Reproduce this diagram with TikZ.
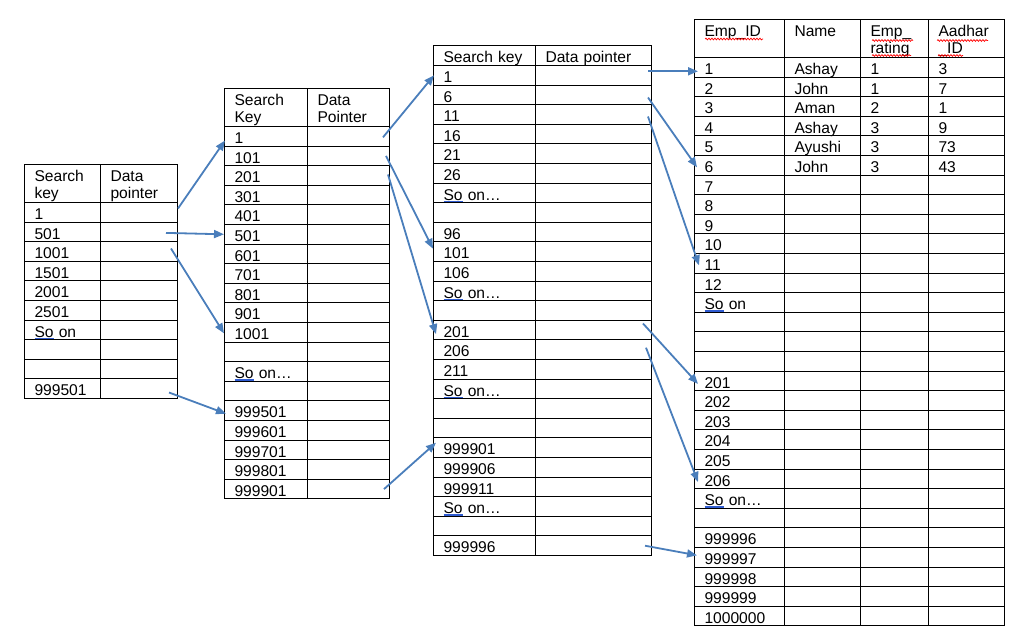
\documentclass[tikz,border=0pt]{standalone}
\usepackage{fontspec}
\setmainfont{Liberation Sans}
\usetikzlibrary{arrows.meta,decorations.pathmorphing}
\definecolor{arrowblue}{HTML}{4A7EBB}
\definecolor{spellblue}{HTML}{2F5BD0}
\newcommand{\blueso}{\rlap{\textcolor{spellblue}{\rule[-2pt]{19pt}{1.3pt}}}So}
\tikzset{
  cell/.style={draw, line width=1pt, anchor=north west, inner xsep=10pt, inner ysep=0pt, text height=17pt, text depth=2.6pt, align=left},
  head/.style={cell, text depth=21pt},
  headone/.style={cell, text depth=3pt},
  ptr/.style={draw=arrowblue, line width=1.8pt, -{Triangle[length=10pt,width=8pt]}},
  wavy/.style={draw=red, line width=0.7pt, decorate, decoration={snake, amplitude=0.9pt, segment length=3pt}}
}
\begin{document}
\begin{tikzpicture}[x=1pt,y=-1pt,font=\fontsize{15.6}{17}\selectfont]
\useasboundingbox (0,0) rectangle (1024,642);
\node[head, text width=56pt] (t1h1) at (24,164) {Search\\key};
\node[head, text width=57pt] (t1h2) at (100,164) {Data\\pointer};
\foreach \k [count=\i] in {1,501,1001,1501,2001,2501,\blueso\ on,,,999501} {
  \node[cell, text width=56pt] (t1k\i) at (24,{202+(\i-1)*19.6}) {\k};
  \node[cell, text width=57pt] (t1p\i) at (100,{202+(\i-1)*19.6}) {};
}
\node[head, text width=63pt] (t2h1) at (224,88) {Search\\Key};
\node[head, text width=62pt] (t2h2) at (307,88) {Data\\Pointer};
\foreach \k [count=\i] in {1,101,201,301,401,501,601,701,801,901,1001,,\blueso\ on…,,999501,999601,999701,999801,999901} {
  \node[cell, text width=63pt] (t2k\i) at (224,{126+(\i-1)*19.6}) {\k};
  \node[cell, text width=62pt] (t2p\i) at (307,{126+(\i-1)*19.6}) {};
}
\node[headone, text width=82pt] (t3h1) at (433,45) {Search key};
\node[headone, text width=96pt] (t3h2) at (535,45) {Data pointer};
\foreach \k [count=\i] in {1,6,11,16,21,26,\blueso\ on…,,96,101,106,\blueso\ on…,,201,206,211,\blueso\ on…,,,999901,999906,999911,\blueso\ on…,,999996} {
  \node[cell, text width=82pt] (t3k\i) at (433,{65+(\i-1)*19.6}) {\k};
  \node[cell, text width=96pt] (t3p\i) at (535,{65+(\i-1)*19.6}) {};
}
\node[head, text width=70pt] (t4h1) at (694,19) {Emp\_ID};
\node[head, text width=56pt] (t4h2) at (784,19) {Name};
\node[head, text width=48pt] (t4h3) at (860,19) {Emp\_\\rating};
\node[head, text width=56pt] (t4h4) at (928,19) {Aadhar\\\_ID};
\draw[wavy] ([shift={(11,2.5)}]t4h1.base west) -- ++(58,0);
\draw[wavy] ([shift={(12,4)}]t4h3.base west) -- ++(41,0);
\draw[wavy] ([shift={(12,19)}]t4h3.base west) -- ++(39,0);
\draw[wavy] ([shift={(9,4)}]t4h4.base west) -- ++(51,0);
\draw[wavy] ([shift={(10,19)}]t4h4.base west) -- ++(25,0);
\foreach \k/\n/\r/\a [count=\i] in {1/Ashay/1/3,2/John/1/7,3/Aman/2/1,4/Ashay/3/9,5/Ayushi/3/73,6/John/3/43} {
  \node[cell, text width=70pt] (t4k\i) at (694,{57+(\i-1)*19.6}) {\k};
  \node[cell, text width=56pt] (t4n\i) at (784,{57+(\i-1)*19.6}) {\n};
  \node[cell, text width=48pt] (t4r\i) at (860,{57+(\i-1)*19.6}) {\r};
  \node[cell, text width=56pt] (t4a\i) at (928,{57+(\i-1)*19.6}) {\a};
}
\foreach \k [count=\i from 7] in {7,8,9,10,11,12,\blueso\ on,,,,201,202,203,204,205,206,\blueso\ on…,,999996,999997,999998,999999,1000000} {
  \node[cell, text width=70pt] (t4k\i) at (694,{57+(\i-1)*19.6}) {\k};
  \node[cell, text width=56pt] (t4n\i) at (784,{57+(\i-1)*19.6}) {};
  \node[cell, text width=48pt] (t4r\i) at (860,{57+(\i-1)*19.6}) {};
  \node[cell, text width=56pt] (t4a\i) at (928,{57+(\i-1)*19.6}) {};
}
\draw[ptr] ([shift={(0,-3.8)}]t1p1.east) -- ([shift={(1,4.2)}]t2k1.west);
\draw[ptr] ([shift={(-12,1)}]t1p2.east) -- (t2k6.west);
\draw[ptr] ([shift={(-7,-3)}]t1p3.east) -- ([shift={(0,1)}]t2k11.west);
\draw[ptr] ([shift={(-9,3.8)}]t1p10.east) -- ([shift={(2,3)}]t2k15.west);
\draw[ptr] ([shift={(-7,1)}]t2p1.east) -- ([shift={(1,0)}]t3k1.west);
\draw[ptr] ([shift={(-4,0)}]t2p2.east) -- ([shift={(0,-3)}]t3k10.west);
\draw[ptr] ([shift={(-2,-1)}]t2p3.east) -- ([shift={(3,4)}]t3k14.west);
\draw[ptr] ([shift={(-6,0)}]t2p19.east) -- ([shift={(3,-5)}]t3k20.west);
\draw[ptr] ([shift={(-4,-4)}]t3p1.east) -- ([shift={(4,4)}]t4k1.west);
\draw[ptr] ([shift={(-4,2.6)}]t3p2.east) -- ([shift={(3,2)}]t4k6.west);
\draw[ptr] ([shift={(-4,2)}]t3p3.east) -- ([shift={(5,2)}]t4k11.west);
\draw[ptr] ([shift={(-9,-6.6)}]t3p14.east) -- ([shift={(4,3)}]t4k17.west);
\draw[ptr] ([shift={(-6,-2)}]t3p15.east) -- ([shift={(4,3)}]t4k22.west);
\draw[ptr] ([shift={(-7,0)}]t3p25.east) -- ([shift={(3,-2)}]t4k26.west);
\end{tikzpicture}
\end{document}
